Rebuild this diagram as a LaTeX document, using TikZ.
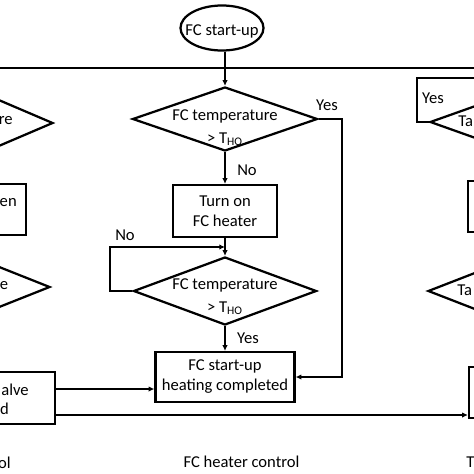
\documentclass[tikz,border=0pt]{standalone}
\usepackage{fontspec}
\setmainfont{Carlito}
\usetikzlibrary{shapes.geometric,arrows.meta,calc}

\begin{document}
\begin{tikzpicture}[
  x=0.025cm,y=-0.025cm,
  ln/.style  ={line width=1.6pt,color=black},
  ar/.style  ={-{Latex[length=4pt,width=3.8pt]},line width=1.6pt,color=black},
  txt/.style ={font=\fontsize{11.8}{14.2}\selectfont,align=center,inner sep=0pt},
  box/.style ={rectangle,draw,line width=1.6pt,txt},
  dia/.style ={diamond,draw,line width=1.6pt,inner sep=0pt},
  ovl/.style ={ellipse,draw,line width=1.6pt,inner sep=0pt},
  lbl/.style ={txt,anchor=base}
]
\useasboundingbox (0,0) rectangle (474,474);
\clip (0,0) rectangle (474,474);
\node[ovl,minimum width=2.075cm,minimum height=1.125cm,
      label={[txt,yshift=-0.08cm]center:FC start-up}] (start) at (222,28) {};
\node[dia,minimum width=4.625cm,minimum height=1.6cm,
      label={[txt,yshift=-0.22cm]center:{FC temperature\\[2pt]> T\textsubscript{HO}}}] (d1) at (225,119) {};
\node[box,minimum width=2.6cm,minimum height=1.3cm] (b1) at (225,211) {Turn on\\FC heater};
\node[dia,minimum width=4.575cm,minimum height=1.7cm,
      label={[txt,yshift=-0.14cm]center:{FC temperature\\[2pt]> T\textsubscript{HO}}}] (d2) at (225,291) {};
\node[box,minimum width=3.475cm,minimum height=1.25cm] (b2) at (225,377) {FC start-up\\heating completed};
\node[dia,minimum width=4.65cm,minimum height=2cm]     (ld1) at (-40,123) {};
\node[box,minimum width=3.3cm,minimum height=1.275cm] (lb1) at (-40,209.5) {};
\node[dia,minimum width=4.65cm,minimum height=1.86cm]  (ld2) at (-43,287) {};
\node[box,minimum width=4cm,minimum height=1.3cm]      (lb3) at (-25,398) {};
\node[box,minimum width=3.1cm,minimum height=1.275cm]  (rb1) at (530,206.5) {};
\node[dia,minimum width=4.6cm,minimum height=1.65cm]   (rd1) at (522,122) {};
\node[dia,minimum width=4.6cm,minimum height=1.8cm]    (rd2) at (520,291) {};
\node[box,minimum width=3.05cm,minimum height=1.275cm] (rb2) at (530,392.5) {};
\node[lbl,anchor=base east] (ft1) at (13,124) {re};
\node[lbl,anchor=base east] (ft2) at (17,206) {en};
\node[lbl,anchor=base east] (ft3) at (8.5,289) {e};
\node[lbl,anchor=base east] (ft4) at (29,395) {alve};
\node[lbl,anchor=base east] (ft5) at (9,414) {d};
\node[lbl,anchor=base east] (ft6) at (11,468) {ol};
\node[lbl,anchor=base west] (ft7) at (458,126) {Ta};
\node[lbl,anchor=base west] (ft8) at (457,295) {Ta};
\node[lbl,anchor=base west] (ft9) at (466,467) {T};
\node[lbl] (cap) at (241.5,467) {FC heater control};
\node[lbl] (y1) at (327,110) {Yes};
\node[lbl] (n1) at (247,175) {No};
\node[lbl] (n2) at (125,240) {No};
\node[lbl] (y2) at (248,343) {Yes};
\node[lbl] (y3) at (433,103) {Yes};
\coordinate (mrg) at ($(b1.south)!0.5!(d2.north)$);
\draw[ln] (0,68) -- (474,68);
\draw[ar] (start.south -| d1.north) -- (d1.north);
\foreach \a/\b in {d1/b1,b1/d2,d2/b2}
  \draw[ar] (\a.south) -- (\b.north);
\draw[ar] (d1.east) -- ++(23,0) |- (b2.east);
\draw[ar] (d2.west) -- ++(-22,0) |- (mrg);
\draw[ar] (lb3.east |- 0,389) -- (b2.west |- 0,389);
\draw[ar] (lb3.east |- 0,415) -- (rb2.west |- 0,415);
\draw[ln] (rd1.west) -- ++(-12,0) |- (480,78);
\end{tikzpicture}
\end{document}
